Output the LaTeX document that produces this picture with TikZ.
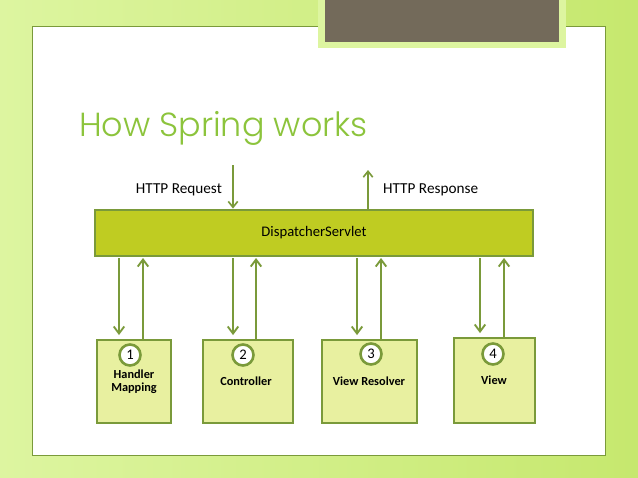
\documentclass[tikz,border=0pt]{standalone}
\usepackage{fontspec}
\setmainfont{Carlito}
\newfontfamily\titlefont{Poppins Light}
\definecolor{limebg}{HTML}{C6E86E}
\definecolor{limelight}{HTML}{DDF5A0}
\definecolor{framegreen}{HTML}{7A9A3A}
\definecolor{barfill}{HTML}{BFCC22}
\definecolor{boxfill}{HTML}{E8F0A0}
\definecolor{titlegreen}{HTML}{8CC43C}
\definecolor{plate}{HTML}{736A5A}
\usetikzlibrary{arrows.meta}
\begin{document}
\begin{tikzpicture}[x=0.03cm, y=-0.03cm,
  part/.style={draw=framegreen, line width=2.4pt, fill=boxfill, minimum width=#1, minimum height=83*0.03cm, inner sep=0pt},
  call/.style={draw=framegreen, line width=1.6pt, -{Straight Barb[length=6pt,width=9pt]}},
  badge/.style={circle, draw=framegreen, line width=2.2pt, fill=white, minimum size=21*0.03cm, inner sep=0pt, font=\fontsize{12.5}{13}\selectfont},
  label/.style={font=\bfseries\fontsize{10.5}{12}\selectfont, align=center}
]
  % slide background
  \shade[left color=limelight, right color=limebg] (0,0) rectangle (638,478);
  \fill[white] (32,26) rectangle (605,455);
  \draw[framegreen, line width=0.8pt] (32,26) rectangle (605,455);
  \fill[limelight] (318,0) rectangle (566,48);
  \fill[plate] (325,0) rectangle (559,42);

  % title
  \node[anchor=west, text=titlegreen, font=\titlefont\fontsize{28.5}{30}\selectfont] (title) at (75,128) {How Spring works};

  % dispatcher bar
  \node[draw=framegreen, line width=2.4pt, fill=barfill, minimum width=438*0.03cm, minimum height=46*0.03cm] (ds) at (314,233) {\fontsize{12.5}{14}\selectfont DispatcherServlet};

  % request / response
  \coordinate (req) at (233,165);
  \coordinate (resp) at (368,170);
  \draw[framegreen, line width=1.4pt, -{Straight Barb[length=5pt,width=8pt]}] (req) -- (req |- ds.north);
  \draw[framegreen, line width=1.4pt, -{Straight Barb[length=5pt,width=8pt]}] (resp |- ds.north) -- (resp);
  \node[anchor=east, font=\fontsize{13}{14}\selectfont] (reqlabel) at (226,190) {HTTP Request};
  \node[anchor=west, font=\fontsize{13}{14}\selectfont] (resplabel) at (379,190) {HTTP Response};

  % components
  \node[part=74*0.03cm] (hm) at (134,381.5) {};
  \node[part=90*0.03cm] (ctl) at (248,381.5) {};
  \node[part=95*0.03cm] (vr) at (369.5,381.5) {};
  \node[part=81*0.03cm, minimum height=85*0.03cm] (view) at (494.5,380.5) {};

  \node[badge] (b1) at (130,355) {1};
  \node[badge] (b2) at (243,355) {2};
  \node[badge] (b3) at (371,354) {3};
  \node[badge] (b4) at (493,354) {4};

  \node[label] (l1) at (134,382) {Handler\\[-1pt]Mapping};
  \node[label] (l2) at (246,381) {Controller};
  \node[label] (l3) at (369,381) {View Resolver};
  \node[label] (l4) at (494,380) {View};

  % calls between servlet and components
  \foreach \d/\u/\n in {119/143/hm, 233/256/ctl, 357/381/vr, 480/504/view}{
    \coordinate (d\n) at (\d,258);
    \coordinate (u\n) at (\u,258);
    \draw[call] (d\n) -- ([yshift=3pt]d\n |- \n.north);
    \draw[call] (u\n |- \n.north) -- (u\n);
  }
\end{tikzpicture}
\end{document}
